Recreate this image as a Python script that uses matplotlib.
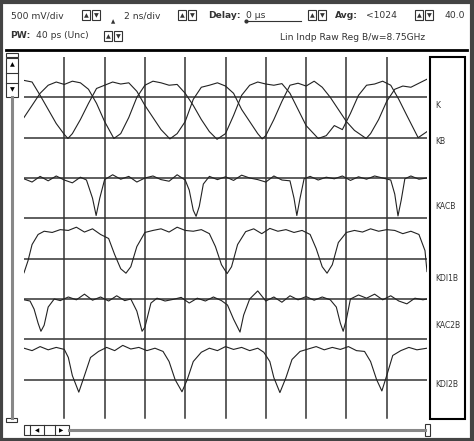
import matplotlib
matplotlib.use("Agg")
import matplotlib.pyplot as plt
from matplotlib.patches import Rectangle

# ---- data (grid divisions: x 0..10 = 2 ns/div, y 0..9 from bottom) ----
labels = ["K", "KB", "KACB", "KDI1B", "KAC2B", "KDI2B"]
label_y = [7.8, 6.9, 5.3, 3.5, 2.35, 0.87]

x_k = [0,0.2,0.4,0.6,0.8,1.0,1.09,1.2,1.4,1.6,1.8,2.0,2.2,2.4,2.6,2.8,3.0,3.2,3.4,3.62,3.8,4.0,4.2,4.4,4.6,4.8,5.0,5.2,5.4,5.6,5.8,5.91,6.0,6.2,6.4,6.6,6.8,7.0,7.2,7.4,7.6,7.8,8.0,8.2,8.49,8.6,8.8,9.0,9.2,9.4,9.6,9.8,10]
y_k = [8.42,8.38,8.05,7.7,7.35,7.08,6.98,7.1,7.45,7.85,8.22,8.3,8.38,8.33,8.36,8.15,7.8,7.5,7.2,6.97,7.1,7.4,7.95,8.25,8.3,8.36,8.28,8.1,7.7,7.4,7.1,6.97,7.05,7.45,7.9,8.3,8.35,8.28,8.4,8.25,8.0,7.7,7.4,7.18,6.98,7.1,7.45,7.9,8.2,8.28,8.25,8.35,8.45]
x_kb = [0,0.2,0.4,0.6,0.8,1.0,1.2,1.4,1.6,1.8,2.0,2.23,2.4,2.6,2.8,3.0,3.2,3.4,3.6,3.8,4.0,4.2,4.4,4.6,4.79,5.0,5.2,5.4,5.6,5.8,6.0,6.2,6.4,6.6,6.8,7.0,7.3,7.5,7.7,7.9,8.1,8.3,8.5,8.7,8.9,9.1,9.3,9.5,9.78,10]
y_kb = [7.5,7.8,8.1,8.3,8.38,8.32,8.4,8.36,8.2,7.85,7.4,6.98,7.1,7.5,8.0,8.3,8.4,8.36,8.3,8.32,8.1,7.8,7.45,7.15,6.96,7.1,7.55,8.05,8.3,8.38,8.33,8.3,8.34,8.1,7.7,7.3,6.98,7.05,7.3,7.2,7.6,8.05,8.3,8.33,8.4,8.3,7.95,7.55,7.0,7.15]
x_kacb = [0,0.2,0.4,0.6,0.8,1.0,1.2,1.4,1.55,1.7,1.79,1.88,2.0,2.2,2.4,2.6,2.8,3.0,3.2,3.4,3.6,3.8,4.0,4.1,4.2,4.27,4.35,4.45,4.6,4.8,5.0,5.2,5.4,5.6,5.8,6.0,6.2,6.4,6.6,6.7,6.77,6.85,6.95,7.1,7.3,7.5,7.7,7.9,8.1,8.3,8.5,8.7,8.9,9.1,9.2,9.28,9.36,9.45,9.6,9.8,10]
y_kacb = [5.98,5.9,6.04,5.93,6.05,5.95,5.88,6.02,5.95,5.5,5.07,5.5,5.96,6.08,5.97,6.04,5.9,6.0,6.05,5.96,5.92,6.08,5.95,5.7,5.2,5.05,5.3,5.85,6.04,5.96,6.03,5.94,6.07,6.0,5.96,5.9,6.05,5.95,5.93,5.5,5.07,5.5,5.98,6.04,5.95,6.02,5.98,6.05,5.94,6.03,5.97,6.05,6.0,5.95,5.6,5.06,5.45,5.98,6.05,5.97,6.0]
x_kdi1 = [0,0.1,0.2,0.35,0.5,0.7,0.9,1.1,1.3,1.5,1.7,1.9,2.1,2.25,2.4,2.53,2.65,2.8,3.0,3.2,3.4,3.6,3.8,4.0,4.2,4.4,4.6,4.75,4.9,5.04,5.15,5.3,5.5,5.7,5.9,6.1,6.3,6.5,6.7,6.9,7.1,7.25,7.4,7.52,7.65,7.8,8.0,8.2,8.4,8.6,8.8,9.0,9.2,9.4,9.6,9.8,9.95,10]
y_kdi1 = [3.65,3.95,4.35,4.6,4.68,4.65,4.72,4.7,4.78,4.66,4.74,4.6,4.5,4.1,3.75,3.64,3.8,4.3,4.65,4.7,4.74,4.66,4.78,4.7,4.68,4.72,4.62,4.3,3.85,3.63,3.8,4.35,4.67,4.74,4.62,4.75,4.68,4.72,4.65,4.7,4.6,4.25,3.8,3.64,3.85,4.4,4.65,4.7,4.66,4.74,4.68,4.72,4.7,4.62,4.68,4.6,4.2,3.68]
x_kac2 = [0,0.15,0.25,0.35,0.42,0.5,0.6,0.75,0.9,1.1,1.3,1.5,1.7,1.9,2.1,2.3,2.5,2.65,2.8,2.93,3.0,3.15,3.3,3.5,3.7,3.9,4.1,4.3,4.5,4.7,4.9,5.05,5.2,5.36,5.45,5.6,5.8,6.0,6.2,6.4,6.6,6.8,7.0,7.2,7.4,7.6,7.75,7.85,7.92,8.0,8.1,8.3,8.5,8.7,8.9,9.1,9.3,9.5,9.7,9.9,10]
y_kac2 = [2.98,2.95,2.75,2.4,2.2,2.35,2.8,3.0,2.96,3.05,2.98,3.12,2.97,3.05,2.95,3.08,2.96,3.0,2.7,2.2,2.3,2.9,3.02,2.95,2.99,3.04,2.9,3.02,2.95,3.05,2.96,2.85,2.5,2.18,2.6,3.0,3.2,2.95,3.05,2.92,3.08,2.98,3.06,2.97,3.05,2.98,2.8,2.4,2.2,2.5,3.0,3.1,3.02,3.12,2.98,3.08,2.95,2.88,3.02,2.98,3.0]
x_kdi2 = [0,0.2,0.4,0.6,0.8,1.0,1.1,1.2,1.36,1.5,1.65,1.85,2.05,2.25,2.45,2.65,2.85,3.05,3.25,3.45,3.6,3.75,3.92,4.05,4.2,4.4,4.6,4.8,5.0,5.2,5.4,5.6,5.8,5.95,6.1,6.2,6.35,6.5,6.65,6.85,7.05,7.25,7.45,7.65,7.85,8.05,8.25,8.45,8.6,8.75,8.88,9.0,9.15,9.35,9.55,9.75,10]
y_kdi2 = [1.78,1.72,1.82,1.74,1.8,1.75,1.55,1.1,0.69,1.1,1.55,1.7,1.8,1.72,1.85,1.76,1.8,1.72,1.78,1.7,1.45,1.0,0.7,1.0,1.45,1.68,1.78,1.72,1.82,1.75,1.8,1.72,1.78,1.68,1.45,1.05,0.68,1.05,1.5,1.7,1.76,1.82,1.74,1.8,1.75,1.82,1.72,1.7,1.45,1.0,0.72,1.1,1.6,1.72,1.8,1.74,1.78]

traces = [(x_k, y_k), (x_kb, y_kb), (x_kacb, y_kacb), (x_kdi1, y_kdi1), (x_kac2, y_kac2), (x_kdi2, y_kdi2)]

W, H = 474, 441
fig = plt.figure(figsize=(W/100, H/100), dpi=100)
fig.patch.set_facecolor("white")

# UI layer in pixel coords
ui = fig.add_axes([0, 0, 1, 1])
ui.set_xlim(0, W); ui.set_ylim(H, 0); ui.axis("off")
dark = "#333333"
fs = 6.6

def btn(x, y):
    ui.add_patch(Rectangle((x, y-5), 8, 10, fill=False, lw=0.8, ec=dark))
    ui.add_patch(Rectangle((x+10, y-5), 8, 10, fill=False, lw=0.8, ec=dark))
    ui.text(x+4.5, y+0.5, "▲", fontsize=4.5, ha="center", va="center", color=dark)
    ui.text(x+14.5, y+0.5, "▼", fontsize=4.5, ha="center", va="center", color=dark)

ui.text(11, 16, "500 mV/div", fontsize=fs, va="center", color=dark)
btn(82, 15)
ui.text(113, 22, "▲", fontsize=4, ha="center", va="center", color=dark)
ui.text(124, 16, "2 ns/div", fontsize=fs, va="center", color=dark)
btn(178, 15)
ui.text(208, 16, "Delay:", fontsize=fs, va="center", fontweight="bold", color=dark)
ui.text(246, 16, "0 µs", fontsize=fs, va="center", color=dark)
ui.plot([246, 301], [21, 21], color=dark, lw=0.8)
ui.plot([246], [21], marker="o", ms=2, color=dark)
btn(308, 15)
ui.text(335, 16, "Avg:", fontsize=fs, va="center", fontweight="bold", color=dark)
ui.text(366, 16, "<1024", fontsize=fs, va="center", color=dark)
btn(415, 15)
ui.text(445, 16, "40.0", fontsize=fs, va="center", color=dark)
ui.text(10, 36, "PW:", fontsize=fs, va="center", fontweight="bold", color=dark)
ui.text(36, 36, "40 ps (Unc)", fontsize=fs, va="center", color=dark)
btn(104, 36)
ui.text(280, 37, "Lin Indp Raw Reg B/w=8.75GHz", fontsize=fs, va="center", color=dark)
ui.plot([6, 467], [50, 50], color="black", lw=2)
# right label box
ui.add_patch(Rectangle((430, 57), 35, 362, fill=False, lw=1.5, ec="black"))
# left scrollbar
ui.add_patch(Rectangle((6, 53), 12, 4, fill=False, lw=0.8, ec=dark))
ui.add_patch(Rectangle((6, 58), 12, 39, fill=False, lw=0.8, ec=dark))
ui.plot([6, 18], [73, 73], color=dark, lw=0.8)
ui.plot([6, 18], [83, 83], color=dark, lw=0.8)
ui.text(12, 65, "▲", fontsize=4.5, ha="center", va="center", color="black")
ui.text(12, 90, "▼", fontsize=4.5, ha="center", va="center", color="black")
ui.plot([12, 12], [97, 418], color="#888888", lw=2.2)
ui.add_patch(Rectangle((6, 418), 11, 4, fill=False, lw=0.8, ec=dark))
# bottom scrollbar
ui.add_patch(Rectangle((24, 425), 45, 10, fill=False, lw=0.8, ec=dark))
for xx in (30, 44, 55):
    ui.plot([xx, xx], [425, 435], color=dark, lw=0.8)
ui.text(37, 430.5, "◀", fontsize=4, ha="center", va="center", color="black")
ui.text(61, 430.5, "▶", fontsize=4, ha="center", va="center", color="black")
ui.plot([69, 425], [430, 430], color="#888888", lw=2.2)
ui.add_patch(Rectangle((425, 424), 5, 12, fill=False, lw=0.8, ec=dark))
# outer dark frame
ui.add_patch(Rectangle((1.5, 1.5), W-3, H-3, fill=False, lw=3, ec="#444444"))

# labels in box
ax = fig.add_axes([24/W, 1-420/H, 403/W, 363/H])
ax.set_xlim(0, 10); ax.set_ylim(0, 9)
ax.axis("off")
for i in range(1, 10):
    ax.plot([i, i], [0.05, 9], color="#333333", lw=1.1)
for j in range(1, 9):
    ax.plot([0, 10], [j, j], color="#333333", lw=1.1)
for xs, ys in traces:
    ax.plot(xs, ys, color="#222222", lw=0.8)
for lab, ly in zip(labels, label_y):
    ax.text(10.2, ly, lab, fontsize=5.5, va="center", ha="left", color=dark, clip_on=False)

fig.savefig("out.png", dpi=100)
